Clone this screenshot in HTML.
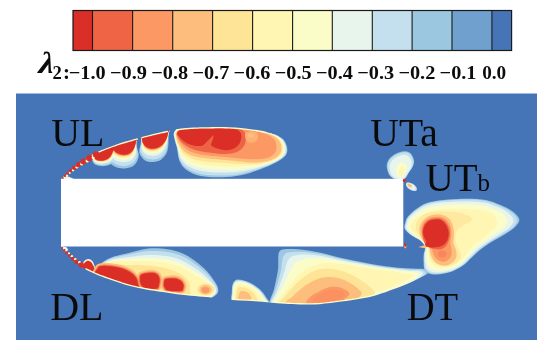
<!DOCTYPE html>
<html><head><meta charset="utf-8"><title>lambda2 contours</title>
<style>
html,body{margin:0;padding:0;background:#fff;}
body{width:550px;height:353px;overflow:hidden;position:relative;font-family:"Liberation Serif",serif;}
svg{position:absolute;left:0;top:0;display:block;}
.lab text{font-family:"Liberation Serif",serif;font-weight:bold;font-size:19.2px;fill:#0c0c0c;}
.reg text{font-family:"Liberation Serif",serif;font-size:39px;fill:#0a0a0a;}
</style></head><body>
<svg width="550" height="353" viewBox="0 0 550 353">
<defs>
<filter id="bl" x="-5%" y="-5%" width="110%" height="110%"><feGaussianBlur stdDeviation="0.7"/></filter>
<clipPath id="panel"><rect x="16" y="93.5" width="521" height="246.5"/></clipPath>
<clipPath id="cu"><path d="M55 186C56.1 184.7 59.1 181.1 61.8 178.2C64.5 175.3 67.6 171.8 71 168.8C74.4 165.9 77.8 163.3 82.1 160.5C86.4 157.7 91.3 154.8 96.8 152.2C102.3 149.6 109.1 147.1 115.2 144.9C121.3 142.8 128.5 140.8 133.7 139.3C138.9 137.8 142.2 136.8 146.6 135.7C151 134.6 155.1 133.6 160 132.5C164.9 131.4 171 130.1 176 129.3C181 128.5 185.1 128.2 190 127.8C194.9 127.4 199 127.3 205.5 127.2C212 127.1 221.1 126.8 229 127.2C236.9 127.6 245.6 128.4 252.7 129.4C259.8 130.4 265.4 131.7 271.6 133C277.8 134.3 281.9 135.8 290 137C298.1 138.2 315 139.5 320 140L320 215L55 215Z"/></clipPath>
<clipPath id="cl"><path d="M55 240.5C56 241.7 59.2 245.5 61.2 247.8C63.2 250.2 65.1 252.3 67.2 254.6C69.3 256.9 71.5 259.2 74 261.4C76.5 263.5 79.7 265.7 82.5 267.5C85.3 269.3 88.2 270.6 91 272C93.8 273.4 95.9 274.3 99.4 275.7C102.9 277.1 107.1 278.5 112 280.2C116.9 281.9 123.3 284.2 129 285.7C134.7 287.2 140.3 288.3 146 289.4C151.7 290.4 157 291.1 163 292C169 292.9 176 294.1 182 294.8C188 295.6 193.9 296 199 296.5C204.1 297 208.3 297.2 212.6 297.7C216.9 298.2 220.4 298.8 225 299.3C229.6 299.8 235 300.2 240 300.5C245 300.8 250.1 300.9 255 301.2C259.9 301.5 264.4 302.1 269.4 302.5C274.4 302.9 279.9 303.4 285 303.7C290.1 304 294.2 304.3 300 304.4C305.8 304.5 312.6 304.7 319.5 304.2C326.4 303.7 334.6 302.5 341.4 301.6C348.1 300.7 354.1 299.9 360 298.8C365.9 297.7 371.3 296.5 377 294.9C382.7 293.3 388.3 291.1 394 289C399.7 286.9 405.9 284.4 411 282.2C416.1 279.9 419.7 278 424.5 275.5C429.3 273 437.4 268.4 440 267L440 215L55 215Z"/></clipPath>
</defs>
<rect x="0" y="0" width="550" height="353" fill="#fff"/>
<g>
<rect x="73" y="10.5" width="19.5" height="40" fill="#da2e28"/>
<rect x="92.5" y="10.5" width="40.1" height="40" fill="#ee6444"/>
<rect x="132.6" y="10.5" width="40.1" height="40" fill="#fc9864"/>
<rect x="172.7" y="10.5" width="39.9" height="40" fill="#fdbe7d"/>
<rect x="212.6" y="10.5" width="40" height="40" fill="#fee496"/>
<rect x="252.6" y="10.5" width="40" height="40" fill="#fef6b2"/>
<rect x="292.6" y="10.5" width="39.7" height="40" fill="#fbfdc9"/>
<rect x="332.3" y="10.5" width="40" height="40" fill="#e8f5ec"/>
<rect x="372.3" y="10.5" width="39.8" height="40" fill="#c4e0ee"/>
<rect x="412.1" y="10.5" width="39.9" height="40" fill="#9bc7e0"/>
<rect x="452" y="10.5" width="39.9" height="40" fill="#70a0cd"/>
<rect x="491.9" y="10.5" width="19.7" height="40" fill="#4575b6"/>
<line x1="92.5" y1="10.5" x2="92.5" y2="50.5" stroke="#1a1a1a" stroke-width="1.1"/>
<line x1="132.6" y1="10.5" x2="132.6" y2="50.5" stroke="#1a1a1a" stroke-width="1.1"/>
<line x1="172.7" y1="10.5" x2="172.7" y2="50.5" stroke="#1a1a1a" stroke-width="1.1"/>
<line x1="212.6" y1="10.5" x2="212.6" y2="50.5" stroke="#1a1a1a" stroke-width="1.1"/>
<line x1="252.6" y1="10.5" x2="252.6" y2="50.5" stroke="#1a1a1a" stroke-width="1.1"/>
<line x1="292.6" y1="10.5" x2="292.6" y2="50.5" stroke="#1a1a1a" stroke-width="1.1"/>
<line x1="332.3" y1="10.5" x2="332.3" y2="50.5" stroke="#1a1a1a" stroke-width="1.1"/>
<line x1="372.3" y1="10.5" x2="372.3" y2="50.5" stroke="#1a1a1a" stroke-width="1.1"/>
<line x1="412.1" y1="10.5" x2="412.1" y2="50.5" stroke="#1a1a1a" stroke-width="1.1"/>
<line x1="452" y1="10.5" x2="452" y2="50.5" stroke="#1a1a1a" stroke-width="1.1"/>
<line x1="491.9" y1="10.5" x2="491.9" y2="50.5" stroke="#1a1a1a" stroke-width="1.1"/>
<rect x="73" y="10.5" width="438.6" height="40" fill="none" stroke="#1a1a1a" stroke-width="1.2"/>
</g>
<g class="lab">
<text transform="translate(38.3 73.3) skewX(-7) scale(1.1 1)" x="0" y="0" style="font-style:italic;font-size:30.5px">λ</text>
<text x="52.6" y="78.7" style="font-size:18.6px">2</text>
<text x="62.9" y="78.6" style="font-size:21px">:</text>
<text x="68.8" y="78.6" textLength="36.9" lengthAdjust="spacingAndGlyphs">−1.0</text>
<text x="110" y="78.6" textLength="36.9" lengthAdjust="spacingAndGlyphs">−0.9</text>
<text x="151.2" y="78.6" textLength="36.9" lengthAdjust="spacingAndGlyphs">−0.8</text>
<text x="192.4" y="78.6" textLength="36.9" lengthAdjust="spacingAndGlyphs">−0.7</text>
<text x="233.6" y="78.6" textLength="36.9" lengthAdjust="spacingAndGlyphs">−0.6</text>
<text x="274.8" y="78.6" textLength="36.9" lengthAdjust="spacingAndGlyphs">−0.5</text>
<text x="316" y="78.6" textLength="36.9" lengthAdjust="spacingAndGlyphs">−0.4</text>
<text x="357.2" y="78.6" textLength="36.9" lengthAdjust="spacingAndGlyphs">−0.3</text>
<text x="398.4" y="78.6" textLength="36.9" lengthAdjust="spacingAndGlyphs">−0.2</text>
<text x="439.6" y="78.6" textLength="36.9" lengthAdjust="spacingAndGlyphs">−0.1</text>
<text x="482.2" y="78.6" textLength="24" lengthAdjust="spacingAndGlyphs">0.0</text>
</g>
<rect x="16" y="93.5" width="521" height="246.5" fill="#4575b6"/>
<g clip-path="url(#panel)">
<g clip-path="url(#cu)"><g filter="url(#bl)">
<path d="M61 179.5L64 175.3L69 176.8L75 179.5Z" fill="#e8f5ec"/>
<path d="M92 147C90.6 149.9 91.2 154.4 91.5 157.2C91.9 160 92.7 162.3 94.2 163.8C95.6 165.3 98.3 165.7 100.4 166.1C102.4 166.4 104.6 166.1 106.6 165.7C108.6 165.2 110.8 164.5 112.4 163.3C113.9 162.1 115.2 160.2 116 158.4C116.7 156.7 117 155 116.8 152.9C116.5 150.8 117.1 148.2 114.3 146C111.5 143.8 103.7 139.8 100 140C96.3 140.2 93.4 144.1 92 147Z" fill="#9bc7e0"/>
<path d="M108.8 145.5C106.6 149 106.4 152.9 106.8 156C107.1 159.1 109.1 161.9 111 163.9C112.9 165.8 115.6 167 118.1 167.8C120.7 168.5 123.4 168.8 126.2 168.3C129 167.8 132.6 166.8 134.7 164.7C136.8 162.7 138.3 159 138.7 156.2C139.1 153.5 137.6 150.4 137.2 148.1C136.8 145.9 136.6 144.5 136.4 142.6C136.3 140.8 139 138.3 136.3 137C133.6 135.7 124.6 133.6 120 135C115.4 136.4 111 142 108.8 145.5Z" fill="#9bc7e0"/>
<path d="M141.4 139.1C141.3 141.4 141.1 141.7 140.7 144.1C140.4 146.4 138.7 150.4 139.4 153.1C140.1 155.8 142.7 158.9 145 160.4C147.3 161.9 150.7 162 153.3 161.9C156 161.8 158.8 161.2 161 159.7C163.2 158.3 165.4 155.7 166.6 153.1C167.8 150.6 168.1 147.2 168.4 144.7C168.7 142.2 168.4 140 168.5 138.1C168.5 136.2 168.7 135.2 168.8 133.2C168.9 131.1 173.8 126.5 169.2 126C164.6 125.5 145.6 127.8 141 130C136.4 132.2 141.4 136.8 141.4 139.1Z" fill="#9bc7e0"/>
<path d="M92 147C90.6 149.8 91.5 154.4 91.9 157.1C92.3 159.7 93.2 161.7 94.6 163C96 164.4 98.4 164.8 100.4 165C102.3 165.3 104.4 165 106.3 164.6C108.2 164.1 110.2 163.4 111.6 162.3C113.1 161.2 114.3 159.5 115 157.8C115.7 156.2 116.1 154.6 116 152.6C115.9 150.7 117 148.1 114.3 146C111.6 143.9 103.7 139.8 100 140C96.3 140.2 93.4 144.2 92 147Z" fill="#c4e0ee"/>
<path d="M109.5 145.8C107.5 149.1 107.8 152.3 108.2 155C108.6 157.6 110.4 160.1 112.1 161.8C113.9 163.5 116.4 164.5 118.7 165.2C121 165.8 123.5 166.1 126 165.7C128.5 165.2 131.7 164.3 133.6 162.6C135.5 160.9 137 157.6 137.5 155.2C138 152.7 136.9 150 136.7 147.9C136.5 145.8 136.4 144.4 136.3 142.6C136.2 140.8 139 138.3 136.3 137C133.6 135.7 124.5 133.5 120 135C115.5 136.5 111.5 142.5 109.5 145.8Z" fill="#c4e0ee"/>
<path d="M141.5 139.1C141.5 141.4 141.3 141.8 141.2 143.9C141 146 139.7 149.4 140.5 151.7C141.3 154.1 143.6 156.8 145.7 158C147.9 159.3 150.9 159.5 153.3 159.4C155.7 159.3 158.2 158.7 160.3 157.5C162.3 156.2 164.3 154 165.5 151.7C166.8 149.5 167.2 146.5 167.6 144.2C168.1 141.9 168 139.8 168.2 138C168.3 136.1 168.5 135.1 168.7 133.1C168.8 131.1 173.8 126.5 169.2 126C164.6 125.5 145.6 127.8 141 130C136.4 132.2 141.5 136.8 141.5 139.1Z" fill="#c4e0ee"/>
<path d="M92 147C90.7 149.8 91.9 154.4 92.4 156.9C93 159.4 93.9 160.9 95.2 162C96.6 163.1 98.7 163.4 100.4 163.6C102.2 163.8 104.2 163.5 105.9 163.1C107.6 162.7 109.3 162 110.6 161C111.9 160 113 158.5 113.7 157C114.4 155.6 114.9 154.1 115 152.3C115.1 150.4 116.8 148 114.3 146C111.8 144 103.7 139.8 100 140C96.3 140.2 93.3 144.2 92 147Z" fill="#e8f5ec"/>
<path d="M110.5 146.2C108.9 149.3 109.6 151.4 110.1 153.5C110.7 155.6 112.2 157.5 113.7 158.9C115.3 160.2 117.4 161.1 119.4 161.6C121.4 162.2 123.5 162.4 125.7 162.1C127.8 161.7 130.4 161 132.1 159.7C133.8 158.3 135.2 155.8 135.8 153.8C136.5 151.8 135.9 149.5 136 147.6C136 145.8 136.1 144.3 136.1 142.6C136.2 140.8 139 138.3 136.3 137C133.6 135.7 124.3 133.5 120 135C115.7 136.5 112.2 143.1 110.5 146.2Z" fill="#e8f5ec"/>
<path d="M141.7 139.1C141.8 141.3 141.7 141.8 141.8 143.6C141.8 145.4 141.2 148 142.1 149.9C142.9 151.8 144.9 153.8 146.8 154.8C148.7 155.8 151.1 155.9 153.2 155.9C155.3 155.8 157.4 155.3 159.2 154.3C161 153.3 162.8 151.6 164.1 149.8C165.3 148 166 145.5 166.7 143.5C167.3 141.5 167.5 139.6 167.8 137.8C168.1 136.1 168.2 135.1 168.5 133.1C168.7 131.1 173.8 126.5 169.2 126C164.6 125.5 145.6 127.8 141 130C136.4 132.2 141.5 136.8 141.7 139.1Z" fill="#e8f5ec"/>
<path d="M92 147C90.8 149.8 92.1 154.4 92.7 156.8C93.3 159.2 94.3 160.3 95.6 161.3C96.9 162.3 98.8 162.5 100.5 162.7C102.1 162.8 104 162.6 105.6 162.2C107.2 161.7 108.8 161.1 110 160.2C111.2 159.2 112.2 157.9 112.9 156.5C113.6 155.1 114.1 153.8 114.3 152C114.5 150.3 116.7 148 114.3 146C111.9 144 103.7 139.8 100 140C96.3 140.2 93.2 144.2 92 147Z" fill="#fbfdc9"/>
<path d="M111.2 146.4C109.8 149.4 110.8 150.8 111.4 152.6C112 154.4 113.3 155.9 114.7 157C116.1 158.1 118.1 158.9 119.9 159.4C121.7 159.8 123.6 160 125.5 159.8C127.3 159.5 129.6 158.9 131.2 157.8C132.7 156.6 134 154.6 134.7 152.9C135.5 151.1 135.3 149.2 135.5 147.4C135.7 145.7 135.9 144.3 136 142.5C136.2 140.8 139 138.3 136.3 137C133.6 135.7 124.2 133.4 120 135C115.8 136.6 112.6 143.5 111.2 146.4Z" fill="#fbfdc9"/>
<path d="M141.8 139C142 141.3 141.9 141.8 142.1 143.4C142.3 145 142.2 147.2 143 148.7C143.9 150.3 145.8 151.9 147.5 152.7C149.1 153.5 151.3 153.7 153.1 153.6C155 153.6 156.9 153.2 158.5 152.3C160.2 151.5 161.9 150.2 163.1 148.6C164.4 147 165.3 144.8 166 143C166.8 141.2 167.1 139.4 167.5 137.7C167.9 136.1 168 135 168.3 133.1C168.6 131.1 173.8 126.5 169.2 126C164.6 125.5 145.6 127.8 141 130C136.4 132.2 141.6 136.8 141.8 139Z" fill="#fbfdc9"/>
<path d="M92 147C90.8 149.8 92.3 154.4 93 156.7C93.6 159 94.6 160 95.9 160.8C97.1 161.7 98.9 161.9 100.5 162C102.1 162.1 103.9 161.9 105.4 161.5C106.9 161.1 108.4 160.5 109.5 159.6C110.7 158.7 111.6 157.4 112.3 156.1C113 154.8 113.5 153.6 113.8 151.9C114.2 150.2 116.6 148 114.3 146C112 144 103.7 139.8 100 140C96.3 140.2 93.2 144.2 92 147Z" fill="#fef6b2"/>
<path d="M111.7 146.6C110.4 149.4 111.6 150.4 112.3 151.9C112.9 153.5 114.1 154.7 115.4 155.7C116.8 156.7 118.6 157.3 120.2 157.8C121.9 158.2 123.6 158.3 125.3 158.1C127 157.9 129 157.4 130.5 156.4C131.9 155.5 133.2 153.7 134 152.2C134.8 150.7 134.9 148.9 135.2 147.3C135.5 145.7 135.8 144.2 136 142.5C136.1 140.8 139 138.3 136.3 137C133.6 135.7 124.1 133.4 120 135C115.9 136.6 113 143.8 111.7 146.6Z" fill="#fef6b2"/>
<path d="M141.8 139C142.1 141.2 142.1 141.8 142.4 143.3C142.7 144.8 142.8 146.5 143.8 147.9C144.7 149.2 146.4 150.6 147.9 151.2C149.5 151.9 151.4 152.1 153.1 152C154.8 152 156.5 151.6 158.1 150.9C159.6 150.2 161.2 149.1 162.5 147.7C163.7 146.4 164.8 144.4 165.6 142.7C166.4 141 166.9 139.3 167.3 137.7C167.7 136 167.9 135 168.2 133C168.5 131.1 173.7 126.5 169.2 126C164.7 125.5 145.6 127.8 141 130C136.4 132.2 141.6 136.8 141.8 139Z" fill="#fef6b2"/>
<path d="M92 147C90.9 149.8 92.4 154.4 93.1 156.6C93.8 158.9 94.8 159.7 96.1 160.6C97.3 161.4 98.9 161.6 100.5 161.6C102 161.7 103.8 161.5 105.3 161.1C106.8 160.7 108.1 160.1 109.2 159.2C110.3 158.4 111.2 157.1 111.9 155.9C112.7 154.7 113.2 153.4 113.6 151.8C113.9 150.1 116.6 148 114.3 146C112 144 103.7 139.8 100 140C96.3 140.2 93.1 144.2 92 147Z" fill="#fee496"/>
<path d="M112 146.7C110.7 149.5 112.1 150.2 112.8 151.5C113.4 152.9 114.6 154 115.9 154.9C117.1 155.8 118.9 156.4 120.5 156.8C122 157.2 123.6 157.3 125.2 157.1C126.8 156.9 128.7 156.5 130.1 155.6C131.5 154.8 132.7 153.2 133.5 151.8C134.3 150.4 134.6 148.8 135 147.2C135.4 145.7 135.7 144.2 135.9 142.5C136.1 140.8 139 138.3 136.3 137C133.6 135.7 124.1 133.4 120 135C115.9 136.6 113.2 144 112 146.7Z" fill="#fee496"/>
<path d="M141.9 139C142.1 141.2 142.2 141.8 142.6 143.2C142.9 144.6 143.2 146.2 144.2 147.4C145.1 148.5 146.8 149.7 148.2 150.4C149.7 151 151.5 151.1 153.1 151.1C154.7 151 156.3 150.7 157.8 150.1C159.3 149.4 160.8 148.5 162.1 147.2C163.3 145.9 164.5 144.1 165.3 142.5C166.2 140.9 166.7 139.2 167.2 137.6C167.7 136 167.8 135 168.2 133C168.5 131.1 173.7 126.5 169.2 126C164.7 125.5 145.6 127.8 141 130C136.4 132.2 141.6 136.8 141.9 139Z" fill="#fee496"/>
<path d="M92 147C90.9 149.8 92.6 154.4 93.3 156.6C94 158.8 95 159.5 96.2 160.3C97.4 161.1 99 161.2 100.5 161.2C102 161.3 103.8 161.1 105.2 160.7C106.6 160.3 107.9 159.7 109 158.9C110 158.1 110.9 156.9 111.6 155.7C112.3 154.5 112.8 153.3 113.3 151.7C113.7 150.1 116.5 147.9 114.3 146C112.1 144.1 103.7 139.8 100 140C96.3 140.2 93.1 144.2 92 147Z" fill="#fdbe7d"/>
<path d="M112.2 146.8C111.1 149.5 112.6 149.9 113.3 151.2C114 152.4 115.1 153.3 116.3 154.1C117.5 154.9 119.2 155.5 120.7 155.8C122.1 156.2 123.6 156.3 125.1 156.1C126.6 156 128.4 155.6 129.7 154.8C131 154.1 132.2 152.7 133.1 151.4C133.9 150.2 134.4 148.6 134.8 147.1C135.3 145.6 135.6 144.2 135.9 142.5C136.1 140.8 138.9 138.3 136.3 137C133.7 135.7 124 133.4 120 135C116 136.6 113.3 144.1 112.2 146.8Z" fill="#fdbe7d"/>
<path d="M141.9 139C142.2 141.2 142.3 141.8 142.7 143.1C143.2 144.4 143.6 145.8 144.6 146.8C145.6 147.9 147.1 148.9 148.5 149.5C149.9 150 151.5 150.1 153 150.1C154.5 150.1 156 149.8 157.5 149.2C158.9 148.7 160.4 147.8 161.7 146.7C162.9 145.5 164.1 143.8 165 142.3C166 140.8 166.6 139.1 167.1 137.6C167.6 136 167.7 134.9 168.1 133C168.5 131.1 173.7 126.5 169.2 126C164.7 125.5 145.5 127.8 141 130C136.5 132.2 141.6 136.8 141.9 139Z" fill="#fdbe7d"/>
<path d="M92 147C90.9 149.8 92.7 154.4 93.4 156.5C94.1 158.7 95.2 159.3 96.4 160C97.5 160.8 99 160.9 100.5 160.9C101.9 161 103.7 160.7 105.1 160.3C106.5 159.9 107.7 159.4 108.7 158.6C109.8 157.8 110.6 156.7 111.3 155.5C112 154.3 112.5 153.2 113 151.6C113.5 150 116.5 147.9 114.3 146C112.1 144.1 103.7 139.8 100 140C96.3 140.2 93.1 144.2 92 147Z" fill="#ee6444"/>
<path d="M112.5 146.9C111.4 149.6 113.1 149.7 113.8 150.8C114.5 151.9 115.5 152.8 116.6 153.5C117.8 154.2 119.4 154.7 120.8 155C122.2 155.3 123.7 155.5 125.1 155.3C126.5 155.2 128.1 154.9 129.3 154.2C130.6 153.5 131.8 152.3 132.7 151.1C133.6 149.9 134.1 148.5 134.7 147.1C135.2 145.6 135.6 144.2 135.8 142.5C136.1 140.8 138.9 138.3 136.3 137C133.7 135.7 124 133.3 120 135C116 136.7 113.5 144.3 112.5 146.9Z" fill="#ee6444"/>
<path d="M142 139C142.3 141.2 142.4 141.8 142.9 143.1C143.4 144.3 144 145.5 144.9 146.4C145.9 147.4 147.4 148.3 148.8 148.7C150.1 149.2 151.6 149.3 153 149.3C154.4 149.3 155.9 149 157.2 148.5C158.6 148 160.1 147.3 161.3 146.2C162.6 145.2 163.9 143.6 164.8 142.2C165.8 140.7 166.5 139.1 167 137.5C167.5 136 167.7 134.9 168 133C168.4 131.1 173.7 126.5 169.2 126C164.7 125.5 145.5 127.8 141 130C136.5 132.2 141.7 136.8 142 139Z" fill="#ee6444"/>
<path d="M92 147C90.9 149.8 92.8 154.4 93.5 156.5C94.2 158.6 95.3 159.1 96.5 159.8C97.7 160.5 99.1 160.6 100.5 160.6C101.9 160.6 103.7 160.4 105 160C106.3 159.6 107.5 159.1 108.5 158.3C109.5 157.5 110.3 156.4 111 155.3C111.7 154.2 112.2 153.1 112.8 151.5C113.3 149.9 116.4 147.9 114.3 146C112.2 144.1 103.7 139.8 100 140C96.3 140.2 93.1 144.2 92 147Z" fill="#da2e28"/>
<path d="M112.7 147C111.7 149.6 113.5 149.5 114.2 150.5C114.9 151.5 115.9 152.2 117 152.8C118.1 153.4 119.7 153.9 121 154.2C122.3 154.5 123.7 154.6 125 154.5C126.3 154.4 127.8 154.1 129 153.5C130.2 152.9 131.4 151.9 132.3 150.8C133.2 149.7 133.9 148.4 134.5 147C135.1 145.6 135.5 144.2 135.8 142.5C136.1 140.8 138.9 138.2 136.3 137C133.7 135.8 123.9 133.3 120 135C116.1 136.7 113.7 144.4 112.7 147Z" fill="#da2e28"/>
<path d="M142 139C142.3 141.2 142.4 141.8 143 143C143.6 144.2 144.3 145.2 145.3 146C146.3 146.8 147.7 147.6 149 148C150.3 148.4 151.7 148.5 153 148.5C154.3 148.5 155.7 148.2 157 147.8C158.3 147.4 159.7 146.8 161 145.8C162.3 144.8 163.6 143.4 164.6 142C165.6 140.6 166.3 139 166.9 137.5C167.5 136 167.6 134.9 168 133C168.4 131.1 173.7 126.5 169.2 126C164.7 125.5 145.5 127.8 141 130C136.5 132.2 141.7 136.8 142 139Z" fill="#da2e28"/>
<path d="M174 132.5C174.9 130.6 175.1 128.9 180.3 127.9C185.6 126.9 197.4 126.8 205.5 126.6C213.6 126.4 221.1 126.1 229 126.6C236.9 127.1 245.6 128.3 252.7 129.4C259.8 130.5 266.7 131.9 271.6 133.4C276.5 134.9 279.7 136.3 282.3 138.6C284.9 140.8 286.4 144.1 287 146.9C287.6 149.7 287.6 152.6 285.8 155.2C284 157.8 280.7 159.9 276.4 162.3C272.1 164.7 265.7 167.2 259.8 169.4C253.9 171.6 247.2 174 240.9 175.3C234.6 176.6 228.7 177.1 222 177.2C215.3 177.3 206.6 177.2 200.7 176C194.8 174.8 190 172.5 186.5 170C183 167.5 181.1 164.8 179.5 161.1C177.9 157.4 177.8 151.7 177 148.1C176.2 144.5 175.1 142.1 174.6 139.5C174.1 136.9 173.1 134.4 174 132.5Z" fill="#9bc7e0"/>
<path d="M174.2 132.5C175.2 130.7 175.3 129 180.5 128C185.7 127 197.4 126.9 205.5 126.7C213.6 126.5 221.1 126.2 229 126.7C236.9 127.2 245.6 128.3 252.7 129.5C259.7 130.6 266.5 131.9 271.4 133.5C276.3 135 279.4 136.4 281.9 138.7C284.4 140.9 285.9 144.1 286.4 146.9C287 149.6 286.9 152.6 285.2 155.1C283.4 157.6 280.2 159.8 275.9 162.1C271.6 164.3 265.3 166.7 259.4 168.7C253.6 170.7 247 172.8 240.8 173.9C234.6 175 229 175.4 222.4 175.5C215.8 175.5 207.3 175.4 201.4 174.2C195.6 173.1 190.8 171 187.2 168.6C183.7 166.3 181.6 163.6 179.9 160.1C178.3 156.6 178 151.1 177.2 147.6C176.3 144.2 175.3 141.8 174.8 139.2C174.3 136.7 173.3 134.4 174.2 132.5Z" fill="#c4e0ee"/>
<path d="M174.7 132.6C175.6 130.8 175.6 129.1 180.8 128.2C185.9 127.2 197.5 127.1 205.5 126.8C213.5 126.6 221.1 126.4 229 126.8C236.9 127.3 245.6 128.5 252.6 129.6C259.7 130.7 266.3 132.1 271 133.6C275.8 135.1 278.7 136.6 281.1 138.8C283.5 141 285 144.1 285.5 146.8C286 149.5 285.9 152.5 284.1 155C282.3 157.4 279.2 159.6 274.9 161.7C270.7 163.8 264.5 165.9 258.8 167.5C253.1 169.2 246.6 170.7 240.7 171.6C234.7 172.4 229.4 172.6 223.1 172.6C216.7 172.5 208.4 172.3 202.7 171.3C196.9 170.2 192.2 168.5 188.5 166.3C184.9 164.2 182.6 161.6 180.7 158.4C178.9 155.1 178.3 150.1 177.4 146.9C176.5 143.6 175.5 141.2 175.1 138.8C174.6 136.4 173.7 134.4 174.7 132.6Z" fill="#e8f5ec"/>
<path d="M175.1 132.7C176 131 176 129.3 181 128.3C186.1 127.4 197.5 127.2 205.5 127C213.5 126.8 221.1 126.5 229 127C236.9 127.4 245.7 128.6 252.6 129.7C259.6 130.9 266.1 132.2 270.7 133.7C275.3 135.3 278.1 136.7 280.5 138.9C282.8 141.1 284.1 144.1 284.5 146.7C285 149.4 284.8 152.4 283.1 154.8C281.3 157.2 278.2 159.4 274.1 161.3C269.9 163.2 263.8 165.1 258.2 166.4C252.6 167.8 246.3 168.8 240.5 169.4C234.8 169.9 229.8 170 223.7 169.8C217.6 169.7 209.5 169.4 203.8 168.5C198.2 167.5 193.5 166.1 189.7 164.1C186 162.2 183.4 159.8 181.4 156.8C179.4 153.8 178.7 149.2 177.6 146.1C176.6 143.1 175.8 140.7 175.3 138.4C174.9 136.2 174.1 134.4 175.1 132.7Z" fill="#fbfdc9"/>
<path d="M175.6 132.8C176.5 131.2 176.4 129.5 181.4 128.5C186.4 127.6 197.6 127.4 205.5 127.2C213.4 126.9 221.2 126.7 229 127.2C236.8 127.6 245.7 128.8 252.6 129.9C259.5 131 265.8 132.4 270.3 133.9C274.8 135.4 277.4 136.9 279.6 139C281.8 141.2 283 144 283.4 146.6C283.8 149.2 283.6 152.3 281.8 154.6C280.1 157 277.1 159.1 273 160.9C268.9 162.6 262.9 164.1 257.4 165.1C252 166 245.8 166.4 240.3 166.6C234.9 166.8 230.4 166.6 224.5 166.4C218.7 166.1 210.8 165.8 205.3 165C199.7 164.1 195.1 163.1 191.2 161.4C187.4 159.7 184.5 157.4 182.3 154.7C180.1 152 179.1 148 177.9 145.2C176.8 142.4 176.1 140 175.7 137.9C175.3 135.9 174.6 134.3 175.6 132.8Z" fill="#fef6b2"/>
<path d="M176.1 132.8C177 131.4 176.8 129.6 181.7 128.7C186.6 127.8 197.6 127.6 205.5 127.3C213.4 127.1 221.2 126.9 229 127.3C236.8 127.8 245.7 128.9 252.5 130.1C259.3 131.2 265.5 132.5 269.9 134.1C274.3 135.6 276.7 137.1 278.8 139.2C280.8 141.3 282 144 282.3 146.6C282.6 149.1 282.4 152.2 280.6 154.5C278.9 156.8 276 158.9 272 160.4C268 162 262 163.1 256.7 163.7C251.4 164.3 245.4 164.1 240.2 164C234.9 163.9 230.9 163.5 225.3 163.1C219.7 162.7 212.1 162.4 206.7 161.7C201.2 160.9 196.6 160.2 192.7 158.8C188.7 157.3 185.6 155.2 183.2 152.8C180.8 150.4 179.4 146.9 178.2 144.3C177 141.8 176.4 139.4 176 137.4C175.6 135.5 175.1 134.3 176.1 132.8Z" fill="#fee496"/>
<path d="M176.5 132.9C177.4 131.6 177.2 129.8 182 128.9C186.8 128 197.7 127.7 205.5 127.5C213.3 127.3 221.2 127 229 127.5C236.8 128 245.8 129.1 252.5 130.2C259.2 131.3 265.2 132.7 269.5 134.2C273.8 135.7 276 137.2 278 139.3C280 141.4 281.1 144 281.3 146.5C281.6 149 281.2 152.1 279.5 154.3C277.8 156.6 274.9 158.6 271 160C267.1 161.4 261.2 162.2 256 162.5C250.8 162.8 245 161.9 240 161.5C235 161.1 231.3 160.5 226 160C220.7 159.5 213.3 159.1 208 158.5C202.7 157.9 198 157.6 194 156.3C190 155.1 186.6 153.1 184 151C181.4 148.9 179.8 145.8 178.5 143.5C177.2 141.2 176.6 138.8 176.3 137C176 135.2 175.6 134.2 176.5 132.9Z" fill="#fdbe7d"/>
<path d="M176.8 132.9C177.7 131.8 177.2 130 182 129.2C186.8 128.3 197.7 128 205.5 127.8C213.3 127.6 221.2 127.3 229 127.8C236.8 128.2 245.7 129.4 252 130.5C258.3 131.6 263.3 133 267 134.5C270.7 136 272.6 137.5 274.2 139.5C275.8 141.5 276.4 144.2 276.5 146.5C276.6 148.8 276.1 151.6 274.5 153.5C272.9 155.4 270.4 157 267 158C263.6 159 258.5 159.2 254 159.3C249.5 159.4 244.7 158.9 240 158.5C235.3 158.1 231.3 157.5 226 157C220.7 156.5 213.3 156.2 208 155.5C202.7 154.8 197.8 154.2 194 153C190.2 151.8 187.4 150 185 148C182.6 146 180.7 143 179.3 141C177.9 139 177.2 137.3 176.8 136C176.4 134.7 175.9 134 176.8 132.9Z" fill="#fc9864"/>
<path d="M177 133C177.7 131.7 177.3 130.1 182 129.3C186.7 128.5 196 128.2 205 128C214 127.8 229.6 127.5 236 128C242.4 128.5 241.8 129.5 243.5 131C245.2 132.5 245.9 134.5 246 137C246.1 139.5 245.5 143.5 244 146C242.5 148.5 240 150.7 237 152C234 153.3 230.2 153.8 226 154C221.8 154.2 216.5 153.5 212 153C207.5 152.5 202.8 151.9 199 151C195.2 150.1 191.9 149 189 147.5C186.1 146 183.3 143.8 181.5 142C179.7 140.2 178.8 138.5 178 137C177.2 135.5 176.3 134.3 177 133Z" fill="#ee6444"/>
<path d="M177.3 132.5C177.9 131.6 180.4 129.9 183 129.3C185.6 128.7 191.9 128.4 196 128.3C200.1 128.2 207.5 128.3 212 128.3C216.5 128.3 224.6 128.1 228 128.3C231.4 128.5 234.4 128.9 236.2 129.5C238 130.1 239.8 131.4 240.5 132.5C241.2 133.6 241.4 135.9 241.3 137.5C241.2 139.1 240.4 142 239.5 143.5C238.6 145 236.8 147 235 148C233.2 149 229.3 150.2 227 150.3C224.7 150.4 221 149.5 219 149C217 148.5 214.1 147.4 213 146.8C211.9 146.2 211 145.5 211 144.5C211 143.5 212.5 140.8 212.8 139.5C213.1 138.2 213.9 135.3 213.4 135.3C212.9 135.3 210.5 138.1 209 139.5C207.5 140.9 204.8 144.4 203 145.3C201.2 146.2 198.1 146.2 196 146C193.9 145.8 190 144.7 188 143.8C186 142.9 183.3 140.9 182 139.8C180.7 138.7 179.2 136.8 178.5 135.8C177.8 134.8 176.7 133.4 177.3 132.5Z" fill="#da2e28"/>
<path d="M245 134.5C245.2 133.1 246.2 132.5 247.5 132C248.8 131.5 250.9 131.2 252.5 131.3C254.1 131.4 256.1 131.8 257 132.8C257.9 133.8 258.2 136.1 258 137.5C257.8 138.9 256.8 140.6 255.5 141.5C254.2 142.4 252 143 250.5 142.8C249 142.6 247.2 141.7 246.3 140.3C245.4 138.9 244.8 135.9 245 134.5Z" fill="#fdb175"/>
<ellipse cx="251" cy="135.5" rx="3.4" ry="2.3" fill="#fdbe7d"/>
<path d="M90.9 155.2L91.8 154.7L92.8 154.2L93.8 153.7L94.8 153.2L95.8 152.7L96.8 152.2L97.8 151.7L98.9 151.2L100 150.7L101.1 150.3L102.3 149.8L103.4 149.3L104.6 148.8L105.8 148.4L106.9 147.9L108.1 147.5L109.3 147L110.5 146.6L111.7 146.1L112.9 145.7L114 145.3L115.2 144.9L116.4 144.5L117.5 144.1L118.7 143.7L119.9 143.3L121.2 143L122.4 142.6L123.6 142.2L124.8 141.9L126 141.5L127.2 141.2L128.3 140.8L129.5 140.5L130.6 140.2L131.7 139.9L132.7 139.6L133.7 139.3L134.7 139L135.6 138.8L136.5 138.5L137.3 138.3" fill="none" stroke="#fbfdc9" stroke-width="2.6"/>
<path d="M141.2 137.1L142 136.9L142.7 136.7L143.5 136.5L144.2 136.3L145 136.1L145.8 135.9L146.6 135.7L147.4 135.5L148.2 135.3L149 135.1L149.9 134.9L150.7 134.7L151.5 134.5L152.3 134.3L153.1 134.1L153.9 133.9L154.8 133.7L155.6 133.5L156.5 133.3L157.3 133.1L158.2 132.9L159.1 132.7L160 132.5L160.9 132.3L161.9 132.1L162.9 131.9L163.9 131.7L164.9 131.4L165.9 131.2L166.9 131L168 130.8" fill="none" stroke="#fbfdc9" stroke-width="2.6"/>
<path d="M176 129.3L176.9 129.2L177.8 129L178.7 128.9L179.6 128.8L180.5 128.7L181.3 128.6L182.2 128.5L183 128.4L183.9 128.3L184.7 128.2L185.6 128.1L186.4 128.1L187.3 128L188.2 127.9L189.1 127.9L190 127.8L190.9 127.7L191.8 127.7L192.7 127.6L193.6 127.6L194.5 127.5L195.4 127.5L196.2 127.4L197.2 127.4L198.1 127.4L199 127.3L200 127.3L201 127.3L202.1 127.3L203.2 127.2L204.3 127.2L205.5 127.2L206.7 127.2L208.1 127.2L209.4 127.1L210.8 127.1L212.2 127.1L213.7 127.1L215.2 127L216.7 127L218.3 127L219.8 127L221.4 127L222.9 127L224.5 127.1L226 127.1L227.5 127.1L229 127.2L230.5 127.3L232 127.4L233.5 127.5L235 127.6L236.6 127.7L238.1 127.8L239.6 127.9L241.1 128.1L242.7 128.2L244.2 128.4L245.6 128.5L247.1 128.7L248.6 128.9L250 129L251.4 129.2L252.7 129.4L254 129.6L255.3 129.8L256.5 130L257.8 130.2L259 130.4L260.2 130.6L261.3 130.9L262.5 131.1L263.6 131.3L264.8 131.6L265.9 131.8" fill="none" stroke="#fbfdc9" stroke-width="2.6"/>
</g></g>
<g clip-path="url(#cl)"><g filter="url(#bl)">
<path d="M61 246L66.5 247.2L68.5 250L64.5 251.2Z" fill="#e8f5ec"/>
<path d="M82.5 267C82.7 265.3 82.6 264.1 83.2 262.9C83.7 261.7 84.7 260.4 85.8 259.8C86.8 259.2 88.3 258.9 89.5 259.2C90.6 259.4 91.9 260.4 92.7 261.4C93.5 262.5 94 264.2 94.4 265.6C94.9 267 95.1 267.8 95.4 269.9C95.7 272 98.2 277.5 96 278C93.8 278.5 84.2 274.8 82 273C79.8 271.2 82.3 268.7 82.5 267Z" fill="#e8f5ec"/>
<path d="M82.5 267C82.8 265.4 83 264.3 83.6 263.2C84.2 262.1 85.2 261 86.1 260.5C87.1 260 88.2 259.8 89.2 260C90.2 260.3 91.3 261 92.1 262C92.9 262.9 93.4 264.5 94 265.8C94.5 267.1 94.9 267.9 95.2 270C95.5 272 98.2 277.5 96 278C93.8 278.5 84.2 274.8 82 273C79.8 271.2 82.2 268.6 82.5 267Z" fill="#fef6b2"/>
<path d="M82.5 267C82.8 265.4 83.3 264.5 84 263.5C84.7 262.5 85.7 261.6 86.5 261.2C87.3 260.8 88.2 260.7 89 260.9C89.8 261.1 90.8 261.6 91.5 262.5C92.2 263.4 92.9 264.8 93.5 266C94.1 267.2 94.6 268 95 270C95.4 272 98.2 277.5 96 278C93.8 278.5 84.2 274.8 82 273C79.8 271.2 82.2 268.6 82.5 267Z" fill="#da2e28"/>
<path d="M96.4 269.5C97.6 266.7 100 264.2 102.9 262.1C105.8 260 109.6 258.1 113.9 256.6C118.2 255.1 122.9 254.2 128.7 252.9C134.4 251.6 142.1 249.2 148.4 248.6C154.8 248 161.3 248.5 166.8 249.2C172.3 249.9 177 251.1 181.6 253C186.2 254.9 190.2 257.4 194.5 260.5C198.8 263.6 203.5 267.5 207.2 271.5C210.8 275.5 214.6 281 216.4 284.3C218.2 287.6 218.5 289.6 218.2 291.5C217.9 293.4 216.5 294.7 214.5 296C212.5 297.3 210.9 298.8 206 299.5C201.1 300.2 191.7 300.3 185 300C178.3 299.7 172.2 298.4 166 297.5C159.8 296.6 154 295.6 148 294.5C142 293.4 136.3 292.5 130 291C123.7 289.5 115.7 287.5 110 285.5C104.3 283.5 98.3 281.7 96 279C93.7 276.3 95.2 272.3 96.4 269.5Z" fill="#9bc7e0"/>
<path d="M96.6 269.7C97.7 266.9 100 264.7 102.9 262.7C105.8 260.7 109.6 258.9 113.9 257.6C118.2 256.2 123 255.6 128.8 254.5C134.5 253.4 142.1 251.5 148.4 251.1C154.7 250.7 161.3 251.2 166.8 252C172.3 252.7 176.8 254 181.3 255.8C185.8 257.6 189.6 260 193.7 262.9C197.8 265.8 202.4 269.4 206.1 273C209.7 276.6 213.5 281.6 215.4 284.6C217.3 287.7 217.6 289.6 217.3 291.5C217.1 293.4 215.8 294.5 213.9 295.9C212 297.2 210.8 298.8 206 299.5C201.2 300.2 191.7 300.3 185 300C178.3 299.7 172.2 298.4 166 297.5C159.8 296.6 154 295.6 148 294.5C142 293.4 136.3 292.5 130 291C123.7 289.5 115.6 287.5 110 285.5C104.4 283.5 98.4 281.6 96.2 279C94 276.4 95.5 272.4 96.6 269.7Z" fill="#c4e0ee"/>
<path d="M96.8 269.9C97.9 267.3 100.1 265.4 103 263.6C105.8 261.7 109.6 260.2 114 259.1C118.3 257.9 123.1 257.6 128.8 256.9C134.6 256.3 142.1 255 148.4 254.9C154.7 254.8 161.4 255.3 166.8 256.1C172.2 257 176.5 258.3 180.8 260C185.1 261.7 188.6 264 192.5 266.5C196.4 269 200.8 272.1 204.3 275.2C207.9 278.4 212 282.4 213.9 285.1C215.9 287.9 216.2 289.8 216 291.5C215.8 293.2 214.7 294.3 213 295.6C211.3 297 210.7 298.8 206 299.5C201.3 300.2 191.7 300.3 185 300C178.3 299.7 172.2 298.4 166 297.5C159.8 296.6 154 295.6 148 294.5C142 293.4 136.3 292.5 130 291C123.7 289.5 115.6 287.5 110 285.5C104.4 283.5 98.7 281.6 96.5 279C94.3 276.4 95.8 272.5 96.8 269.9Z" fill="#e8f5ec"/>
<path d="M97.1 270.1C98.1 267.6 100.2 265.9 103 264.3C105.8 262.6 109.6 261.2 114 260.3C118.3 259.4 123.2 259.3 128.9 259C134.7 258.6 142.1 258 148.4 258.1C154.7 258.1 161.5 258.6 166.8 259.6C172.1 260.5 176.3 261.8 180.4 263.5C184.5 265.2 187.7 267.2 191.5 269.5C195.3 271.8 199.4 274.4 202.9 277.1C206.5 279.8 210.7 283.2 212.7 285.6C214.7 288 215 289.9 214.9 291.5C214.8 293.1 213.7 294.1 212.2 295.5C210.8 296.8 210.5 298.7 206 299.5C201.5 300.3 191.7 300.3 185 300C178.3 299.7 172.2 298.4 166 297.5C159.8 296.6 154 295.6 148 294.5C142 293.4 136.3 292.5 130 291C123.7 289.5 115.5 287.5 110 285.5C104.5 283.5 98.9 281.6 96.8 279C94.6 276.4 96 272.6 97.1 270.1Z" fill="#fbfdc9"/>
<path d="M97.3 270.3C98.3 268 100.2 266.5 103 265C105.8 263.5 109.7 262.2 114 261.5C118.3 260.8 123.3 261.1 129 261C134.7 260.9 142.1 260.9 148.4 261.2C154.7 261.5 161.5 262 166.8 263C172.1 264 176.1 265.4 180 267C183.9 268.6 186.9 270.5 190.5 272.5C194.1 274.5 198 276.8 201.5 279C205 281.2 209.4 283.9 211.5 286C213.6 288.1 213.8 289.9 213.8 291.5C213.8 293.1 212.8 294 211.5 295.3C210.2 296.6 210.4 298.7 206 299.5C201.6 300.3 191.7 300.3 185 300C178.3 299.7 172.2 298.4 166 297.5C159.8 296.6 154 295.6 148 294.5C142 293.4 136.3 292.5 130 291C123.7 289.5 115.5 287.5 110 285.5C104.5 283.5 99.1 281.5 97 279C94.9 276.5 96.3 272.6 97.3 270.3Z" fill="#fef6b2"/>
<path d="M97.8 270.8C98.8 268.8 100.3 268.1 103 267C105.7 265.9 109.7 264.8 114 264.5C118.3 264.2 123.3 264.8 129 265C134.7 265.2 142.1 264.9 148.4 265.5C154.7 266.1 161.9 267.3 166.8 268.5C171.7 269.7 174.9 271 178 272.5C181.1 274 183.6 275.7 185.5 277.5C187.4 279.3 188.8 281.6 189.5 283.5C190.2 285.4 190.2 286.6 190 289C189.8 291.4 192 296.6 188 298C184 299.4 172.7 298.1 166 297.5C159.3 296.9 154 295.6 148 294.5C142 293.4 136.3 292.5 130 291C123.7 289.5 115.5 287.5 110 285.5C104.5 283.5 99 281.4 97 279C95 276.6 96.8 272.8 97.8 270.8Z" fill="#fee496"/>
<ellipse cx="205.8" cy="289.6" rx="8.5" ry="6" fill="#fee496"/>
<path d="M95.3 266.8C96.5 263.6 100.1 263.6 102.6 263C105.1 262.5 107.6 263.1 110.3 263.3C113 263.6 115.9 263.9 118.7 264.6C121.5 265.2 124.6 266.1 127.2 267.2C129.7 268.3 132 269.6 133.9 271.2C135.8 272.7 137.4 274.5 138.6 276.5C139.7 278.4 140.8 279.2 140.7 282.6C140.5 286 145.3 297.1 137.7 297C130.2 296.9 102.4 287 95.4 282C88.3 277 94.1 269.9 95.3 266.8Z" fill="#fdbe7d"/>
<path d="M139 272.8C140.6 271.3 144 270.8 146.6 270.3C149.2 269.9 152.3 269.6 154.6 270.2C156.9 270.7 159 272 160.3 273.6C161.6 275.1 162.2 277.4 162.5 279.2C162.7 281.1 162.5 282.8 161.9 284.7C161.3 286.7 160.7 289.8 158.7 290.9C156.7 292.1 152.5 291.9 149.8 291.8C147.2 291.7 144.6 291.3 142.6 290.3C140.7 289.2 139 287.1 138.1 285.3C137.2 283.5 137 281.6 137.1 279.5C137.2 277.4 137.4 274.3 139 272.8Z" fill="#fdbe7d"/>
<path d="M163 277.4C164.4 276 167.5 275.9 169.8 275.6C172 275.3 174.4 275.2 176.6 275.8C178.8 276.3 181.4 277.3 183 278.7C184.6 280.2 185.8 282.5 186.3 284.3C186.8 286.1 186.5 287.8 185.9 289.4C185.2 291 184.4 292.9 182.4 293.7C180.4 294.5 176.6 294.2 173.8 294C171 293.8 167.6 293.6 165.6 292.7C163.6 291.7 162.6 289.8 161.8 288.3C161 286.9 160.8 285.8 161 284C161.2 282.2 161.5 278.8 163 277.4Z" fill="#fdbe7d"/>
<path d="M96.5 267.4C97.6 264.6 100.5 264.9 102.8 264.4C105 264 107.6 264.5 110.2 264.7C112.8 265 115.6 265.3 118.4 265.9C121.1 266.6 124.2 267.5 126.6 268.5C129.1 269.6 131.2 270.8 133 272.3C134.8 273.7 136.3 275.4 137.4 277.2C138.4 278.9 139.2 279.7 139.3 282.8C139.4 285.9 145.1 295.9 137.9 295.6C130.7 295.3 103 285.5 96.1 280.8C89.2 276.1 95.4 270.1 96.5 267.4Z" fill="#fc9864"/>
<path d="M139.9 273.8C141.3 272.5 144.4 272.1 146.8 271.7C149.2 271.3 152.2 271.1 154.3 271.5C156.4 272 158.1 273.2 159.2 274.5C160.4 275.8 160.9 277.8 161.1 279.4C161.3 281.1 161.1 282.7 160.6 284.4C160 286.1 159.8 288.7 158.1 289.7C156.3 290.7 152.4 290.5 149.9 290.4C147.5 290.3 145 290 143.3 289C141.5 288.1 140.2 286.3 139.4 284.7C138.6 283.1 138.4 281.4 138.5 279.6C138.6 277.8 138.5 275.1 139.9 273.8Z" fill="#fc9864"/>
<path d="M163.9 278.4C165.2 277.2 167.8 277.2 169.9 277C171.9 276.8 174.3 276.7 176.3 277.1C178.4 277.6 180.6 278.5 182 279.8C183.5 281 184.5 283.2 184.9 284.7C185.4 286.2 185 287.7 184.5 289C184 290.3 183.8 291.7 182 292.3C180.3 292.9 176.5 292.8 173.9 292.6C171.3 292.4 168 292.2 166.2 291.4C164.4 290.6 163.7 288.9 163.1 287.7C162.4 286.5 162.3 285.6 162.4 284.1C162.5 282.5 162.7 279.6 163.9 278.4Z" fill="#fc9864"/>
<path d="M97.3 267.7C98.3 265.2 100.8 265.6 102.9 265.2C105 264.8 107.5 265.3 110.1 265.5C112.6 265.8 115.5 266.1 118.2 266.7C120.9 267.3 123.9 268.2 126.3 269.3C128.7 270.3 130.8 271.5 132.5 272.9C134.2 274.3 135.7 275.9 136.7 277.6C137.7 279.3 138.3 280 138.5 282.9C138.7 285.8 144.9 295.3 137.9 294.8C130.9 294.3 103.3 284.7 96.6 280.2C89.8 275.7 96.2 270.2 97.3 267.7Z" fill="#ee6444"/>
<path d="M98 268C99 265.8 101 266.3 103 266C105 265.7 107.5 266.1 110 266.3C112.5 266.6 115.3 266.9 118 267.5C120.7 268.1 123.7 269 126 270C128.3 271 130.3 272.2 132 273.5C133.7 274.8 135.1 276.4 136 278C136.9 279.6 137.4 280.3 137.7 283C138 285.7 144.8 294.6 138 294C131.2 293.4 103.7 283.8 97 279.5C90.3 275.2 97 270.2 98 268Z" fill="#da2e28"/>
<path d="M140.5 274.4C141.7 273.2 144.6 272.9 146.9 272.5C149.2 272.2 152.2 271.9 154.2 272.3C156.1 272.7 157.6 273.8 158.6 275C159.6 276.2 160.1 278 160.3 279.5C160.5 281 160.2 282.6 159.8 284.2C159.3 285.8 159.3 288.1 157.7 289C156 289.9 152.3 289.7 150 289.6C147.6 289.5 145.3 289.2 143.6 288.3C142 287.4 140.8 285.8 140.1 284.4C139.4 282.9 139.2 281.2 139.3 279.6C139.4 277.9 139.2 275.6 140.5 274.4Z" fill="#ee6444"/>
<path d="M141 275C142.2 273.9 144.8 273.6 147 273.3C149.2 273 152.2 272.7 154 273.1C155.8 273.5 157.1 274.4 158 275.5C158.9 276.6 159.3 278.2 159.5 279.6C159.7 281 159.4 282.6 159 284C158.6 285.4 158.8 287.5 157.3 288.3C155.8 289.1 152.2 288.9 150 288.8C147.8 288.7 145.5 288.4 144 287.6C142.5 286.8 141.5 285.3 140.8 284C140.2 282.7 140.1 281.1 140.1 279.6C140.1 278.1 139.8 276.1 141 275Z" fill="#da2e28"/>
<path d="M164.5 279C165.6 278 168 278 169.9 277.8C171.9 277.6 174.2 277.5 176.2 277.9C178.1 278.4 180.2 279.2 181.5 280.4C182.9 281.6 183.8 283.5 184.2 284.9C184.5 286.3 184.2 287.6 183.8 288.7C183.4 289.9 183.4 291.1 181.8 291.6C180.2 292.1 176.5 292 174 291.8C171.4 291.6 168.2 291.4 166.5 290.6C164.8 289.9 164.3 288.4 163.8 287.4C163.2 286.3 163.1 285.5 163.2 284.1C163.3 282.8 163.3 280.1 164.5 279Z" fill="#ee6444"/>
<path d="M165 279.6C166 278.7 168.2 278.8 170 278.6C171.8 278.5 174.2 278.3 176 278.7C177.8 279.1 179.8 279.9 181 281C182.2 282.1 183.1 283.9 183.4 285.1C183.7 286.4 183.3 287.6 183 288.5C182.7 289.4 183.1 290.4 181.6 290.8C180.1 291.2 176.5 291.1 174 291C171.5 290.9 168.4 290.6 166.8 289.9C165.2 289.2 165 287.9 164.5 287C164 286.1 163.9 285.4 164 284.2C164.1 283 164 280.5 165 279.6Z" fill="#da2e28"/>
<ellipse cx="205.6" cy="289.7" rx="6.2" ry="4.7" fill="#fdbe7d"/>
<ellipse cx="205.5" cy="289.9" rx="3.9" ry="3" fill="#fc9864"/>
<path d="M231.4 301.5C230.9 299.3 231.6 294.9 231.8 292C232 289.1 231.9 285.9 232.8 283.8C233.8 281.7 234.8 279.9 237.5 279.6C240.2 279.4 245.2 280.7 249 282.3C252.8 283.9 257 286.8 260 289.5C263 292.2 265.4 295.9 267 298.5C268.6 301.1 272.3 303.8 269.5 305C266.7 306.2 255.8 306 250 306C244.2 306 238.1 305.8 235 305C231.9 304.2 231.9 303.7 231.4 301.5Z" fill="#9bc7e0"/>
<path d="M231.8 301.4C231.3 299.3 232 295.1 232.2 292.2C232.4 289.4 232.3 286.3 233.2 284.3C234.1 282.3 235.1 280.5 237.7 280.3C240.3 280 245.2 281.3 248.8 282.9C252.4 284.4 256.5 287.1 259.3 289.7C262.2 292.3 264.5 295.9 266 298.4C267.5 300.9 271.1 303.5 268.4 304.7C265.7 305.9 255.3 305.6 249.8 305.6C244.2 305.6 238.3 305.4 235.3 304.7C232.3 304 232.3 303.4 231.8 301.4Z" fill="#c4e0ee"/>
<path d="M232.3 301.2C231.8 299.2 232.4 295.2 232.7 292.5C232.9 289.8 232.8 286.8 233.7 284.9C234.6 283 235.5 281.3 238 281.1C240.5 280.8 245.1 282 248.5 283.5C252 285 255.8 287.6 258.6 290C261.3 292.5 263.5 295.9 264.9 298.3C266.3 300.7 269.7 303.1 267.1 304.3C264.5 305.4 254.7 305.2 249.5 305.2C244.2 305.2 238.5 305 235.7 304.4C232.8 303.7 232.8 303.1 232.3 301.2Z" fill="#e8f5ec"/>
<path d="M232.9 300.9C232.4 299.1 233 295.4 233.3 292.9C233.5 290.3 233.4 287.5 234.3 285.7C235.1 283.9 236.1 282.3 238.4 282.1C240.7 281.9 245 282.9 248.2 284.3C251.4 285.7 255 288.1 257.6 290.4C260.1 292.7 262.2 295.9 263.5 298.2C264.8 300.4 267.8 302.7 265.4 303.8C263 304.9 254 304.7 249.1 304.7C244.2 304.7 238.8 304.5 236.1 303.9C233.4 303.3 233.3 302.8 232.9 300.9Z" fill="#fbfdc9"/>
<path d="M234 300.5C233.6 298.9 234.2 295.8 234.5 293.6C234.7 291.4 234.7 288.9 235.5 287.3C236.2 285.7 237.1 284.4 239.1 284.2C241.1 283.9 244.8 284.8 247.6 286C250.3 287.1 253.4 289.1 255.6 291.1C257.8 293.1 259.5 295.9 260.6 297.9C261.7 299.8 264.1 301.9 262.1 302.8C260.1 303.8 252.6 303.6 248.4 303.6C244.2 303.6 239.4 303.5 237 303C234.6 302.5 234.5 302.1 234 300.5Z" fill="#fef6b2"/>
<path d="M235.7 299.9C235.3 298.7 235.9 296.3 236.2 294.6C236.4 292.9 236.5 290.7 237.2 289.5C237.8 288.2 238.5 287.2 240.1 287C241.7 286.8 244.6 287.4 246.7 288.3C248.8 289.1 251.2 290.6 252.8 292.1C254.5 293.6 255.8 296 256.6 297.5C257.4 299.1 259 300.7 257.5 301.4C255.9 302.2 250.6 302 247.4 302.1C244.2 302.2 240.2 302.1 238.2 301.8C236.3 301.4 236 301.1 235.7 299.9Z" fill="#fee496"/>
<path d="M238 299C237.8 298.3 238.2 297.1 238.5 296C238.8 294.9 239 293.3 239.5 292.5C240 291.7 240.5 291.2 241.5 291C242.5 290.8 244.2 291.1 245.5 291.5C246.8 291.9 248.1 292.6 249 293.5C249.9 294.4 250.7 296 251 297C251.3 298 251.8 299 251 299.5C250.2 300 247.8 299.9 246 300C244.2 300.1 241.3 300.2 240 300C238.7 299.8 238.2 299.7 238 299Z" fill="#fdbe7d"/>
<path d="M269.4 304.5C268.3 301.9 272.5 294.6 273.7 290.2C274.9 285.8 275.8 281.6 276.5 278C277.2 274.4 277.8 271.9 278.1 268.4C278.4 264.9 278.1 259.8 278.3 257C278.5 254.2 278.4 253.1 279.3 251.8C280.2 250.5 280.4 249.7 283.5 249.3C286.6 248.9 291.7 248.7 297.7 249.2C303.7 249.7 312.2 250.9 319.5 252.4C326.8 253.9 334.6 256.4 341.4 258C348.1 259.6 354.1 260.6 360 261.8C365.9 263 371.3 264.1 377 265C382.7 265.9 388.3 266.7 394 267.3C399.7 267.9 406 268.3 411 268.6C416 268.9 421.2 268.4 424 269C426.8 269.6 427.9 270.7 428 272C428.1 273.3 427.3 275.1 424.5 277C421.7 278.9 416.1 281.3 411 283.5C405.9 285.7 400 287.9 394 290C388 292.1 382.3 294.2 375 296C367.7 297.8 359.2 299.3 350 301C340.8 302.7 328.8 305 320 306C311.2 307 303.7 307 297 307C290.3 307 284.6 306.4 280 306C275.4 305.6 270.4 307.1 269.4 304.5Z" fill="#9bc7e0"/>
<path d="M270.2 304.5C269.4 302.1 273.6 295.5 275 291.4C276.4 287.3 277.6 283.3 278.6 279.8C279.6 276.3 280.3 273.8 281 270.5C281.6 267.2 281.8 262.4 282.4 259.8C282.9 257.2 283.2 256.1 284.3 254.8C285.4 253.6 285.9 252.8 288.8 252.3C291.7 251.8 296.4 251.4 301.9 251.8C307.4 252.1 314.9 253.1 321.6 254.3C328.2 255.5 335.5 257.7 341.9 259.1C348.3 260.5 354.1 261.6 360 262.7C365.9 263.8 371.3 264.9 377 265.8C382.7 266.7 388.5 267.4 394 268C399.5 268.6 405.2 269.2 409.7 269.5C414.3 269.8 418.9 269.4 421.5 269.9C424.1 270.5 425.4 271.4 425.5 272.6C425.6 273.8 424.9 275.3 422.2 277.1C419.6 278.8 414.5 281.1 409.7 283.1C405 285.2 399.5 287.4 393.6 289.5C387.8 291.5 382.1 293.6 374.8 295.5C367.5 297.4 359.1 299.2 350 300.9C340.9 302.7 328.8 305 320 306C311.2 307 303.6 307 297 307C290.4 307 284.6 306.4 280.2 306C275.7 305.6 271.1 306.9 270.2 304.5Z" fill="#c4e0ee"/>
<path d="M271.1 304.5C270.5 302.3 274.9 296.6 276.5 292.8C278.1 289 279.6 285.1 280.9 281.8C282.1 278.5 283.1 276 284.1 272.8C285.2 269.7 286 265.3 286.9 262.9C287.9 260.4 288.5 259.4 289.8 258.1C291.1 256.9 291.9 256.2 294.7 255.6C297.5 255.1 301.7 254.5 306.6 254.6C311.4 254.8 317.9 255.5 323.9 256.4C329.8 257.4 336.4 259.2 342.4 260.4C348.4 261.6 354.2 262.7 360 263.8C365.8 264.8 371.3 265.9 377 266.7C382.7 267.6 388.8 268.2 394 268.8C399.2 269.4 404.2 270.1 408.3 270.5C412.5 270.8 416.3 270.5 418.7 271C421.1 271.4 422.5 272.2 422.7 273.3C422.9 274.3 422.1 275.5 419.8 277.1C417.4 278.7 412.8 280.8 408.3 282.7C403.9 284.7 398.9 286.8 393.2 288.9C387.6 290.9 381.8 292.9 374.6 294.9C367.4 296.9 359.1 299 350 300.8C340.9 302.7 328.8 305 320 306C311.2 307 303.6 307 297 307C290.4 307 284.7 306.4 280.4 306C276.1 305.6 271.8 306.7 271.1 304.5Z" fill="#e8f5ec"/>
<path d="M272.3 304.5C271.9 302.6 276.3 297.8 278.2 294.4C280.1 291 282 287.3 283.6 284.2C285.3 281.1 286.5 278.5 288 275.6C289.4 272.7 291 268.8 292.4 266.6C293.8 264.4 294.9 263.3 296.5 262.2C298 261 299.2 260.3 301.8 259.7C304.4 259 308 258.2 312.1 258.1C316.3 258 321.5 258.3 326.6 259C331.8 259.6 337.5 260.9 343 261.9C348.6 262.9 354.3 264 360 265C365.7 266 371.3 267 377 267.8C382.7 268.6 389.1 269.1 394 269.8C398.9 270.4 403.1 271.2 406.7 271.6C410.2 272 413.2 271.8 415.3 272.2C417.4 272.6 419.1 273.2 419.3 274C419.6 274.9 418.9 275.8 416.8 277.2C414.6 278.6 410.7 280.4 406.7 282.3C402.7 284.1 398.1 286.2 392.8 288.1C387.4 290.1 381.5 292 374.4 294.1C367.3 296.2 359.1 298.7 350 300.7C340.9 302.7 328.8 304.9 320 306C311.2 307.1 303.6 307 297 307C290.4 307 284.7 306.4 280.6 306C276.5 305.6 272.7 306.4 272.3 304.5Z" fill="#fbfdc9"/>
<path d="M274 304.5C274 303 278.7 299.8 281 297C283.3 294.2 285.8 290.8 288 288C290.2 285.2 291.8 282.6 294 280C296.2 277.4 298.8 274.4 301 272.5C303.2 270.6 305 269.6 307 268.5C309 267.4 310.7 266.8 313 266C315.3 265.2 318 264 321 263.5C324 263 327.2 262.9 331 263C334.8 263.1 339.2 263.6 344 264.3C348.8 265 354.5 266.1 360 267C365.5 267.9 371.3 268.8 377 269.5C382.7 270.2 389.5 270.6 394 271.3C398.5 272 401.3 273 404 273.5C406.7 274 408.3 273.9 410 274.2C411.7 274.5 413.7 274.8 414 275.3C414.3 275.8 413.7 276.3 412 277.3C410.3 278.3 407.3 279.9 404 281.5C400.7 283.1 397 285.1 392 287C387 288.9 381 290.8 374 293C367 295.2 359 298.3 350 300.5C341 302.7 328.8 304.9 320 306C311.2 307.1 303.5 307 297 307C290.5 307 284.8 306.4 281 306C277.2 305.6 274 306 274 304.5Z" fill="#fef6b2"/>
<path d="M278 303.5C278.7 301.8 282.5 298.8 285 296C287.5 293.2 290.2 289.9 293 287C295.8 284.1 298.8 281 302 278.5C305.2 276 308.3 273.6 312 272C315.7 270.4 319.7 269.1 324 268.8C328.3 268.5 333.3 269 338 270C342.7 271 347.5 272.8 352 275C356.5 277.2 361.3 280.3 365 283C368.7 285.7 372.8 288.9 374 291C375.2 293.1 376 293.8 372 295.5C368 297.2 358.7 299.2 350 301C341.3 302.8 328.8 305 320 306C311.2 307 303.5 307 297 307C290.5 307 284.2 306.6 281 306C277.8 305.4 277.3 305.2 278 303.5Z" fill="#fee496"/>
<path d="M286 303C284.8 301.2 290.3 298.5 293 296C295.7 293.5 298.7 290.5 302 288C305.3 285.5 309.2 282.8 313 281C316.8 279.2 320.8 277.8 325 277.3C329.2 276.8 333.8 277.1 338 278C342.2 278.9 346.5 281.1 350 283C353.5 284.9 357.1 287.7 359 289.5C360.9 291.3 362.2 292.3 361.5 294C360.8 295.7 360.2 297.7 355 299.5C349.8 301.3 339.2 303.8 330 305C320.8 306.2 307.3 306.8 300 306.5C292.7 306.2 287.2 304.8 286 303Z" fill="#fdbe7d"/>
<path d="M306.5 301.5C307 299.7 309.2 297.5 311 296C312.8 294.5 315.2 293.6 317.4 292.4C319.6 291.2 321.8 289.9 324 289C326.2 288.1 328.2 287.2 330.5 286.9C332.8 286.6 335.8 286.7 338 287C340.2 287.3 341.8 288.1 343.5 288.8C345.2 289.6 347 290.6 348 291.5C349 292.4 349.8 293.4 349.5 294.5C349.2 295.6 347.4 296.8 346 298C344.6 299.2 343.6 300.5 341.4 301.5C339.2 302.5 336.6 303.1 333 304C329.4 304.9 324.2 306.5 320 307C315.8 307.5 310.2 307.9 308 307C305.8 306.1 306 303.3 306.5 301.5Z" fill="#fc9864"/>
<path d="M313 300C313.5 298.8 315.3 297.2 317 296C318.7 294.8 320.8 293.5 323 292.5C325.2 291.5 328 290.4 330.5 290C333 289.6 335.9 289.9 338 290.2C340.1 290.5 341.8 291.2 343 292C344.2 292.8 345.3 293.9 345 295C344.7 296.1 343 297.4 341 298.5C339 299.6 336.2 300.6 333 301.5C329.8 302.4 325.2 303.7 322 304C318.8 304.3 315.5 304.2 314 303.5C312.5 302.8 312.5 301.2 313 300Z" fill="#fb9160"/>
<path d="M85.2 269.1L85.7 269.3L86.2 269.6L86.8 269.9L87.3 270.2L87.8 270.4L88.4 270.7L88.9 271L89.4 271.2L89.9 271.5L90.5 271.7L91 272L91.5 272.3L92 272.5L92.5 272.7L93 273L93.5 273.2L94 273.4L94.5 273.6L94.9 273.9L95.4 274.1L95.9 274.3L96.5 274.5L97 274.7L97.6 275L98.1 275.2L98.8 275.4L99.4 275.7L100.1 276L100.7 276.2L101.4 276.5L102.2 276.7L102.9 277L103.6 277.3L104.4 277.6L105.2 277.8L106 278.1L106.8 278.4L107.6 278.7L108.4 279L109.3 279.3L110.2 279.6L111.1 279.9L112 280.2L112.9 280.5L113.9 280.9L114.9 281.2L115.9 281.5L117 281.9L118.1 282.3L119.1 282.6L120.2 283L121.3 283.4L122.4 283.7L123.5 284.1L124.6 284.4L125.7 284.8L126.8 285.1L127.9 285.4L129 285.7L130.1 286L131.1 286.3L132.2 286.5L133.2 286.8L134.3 287L135.4 287.3L136.4 287.5L137.5 287.7L138.6 288L139.6 288.2L140.7 288.4L141.8 288.6L142.8 288.8L143.9 289L144.9 289.2L146 289.4L147.1 289.6L148.1 289.8L149.2 290L150.2 290.1L151.2 290.3L152.3 290.4L153.3 290.6L154.4 290.8L155.4 290.9L156.5 291.1L157.5 291.2L158.6 291.4L159.7 291.5L160.8 291.7L161.9 291.8L163 292L164.1 292.2L165.3 292.3L166.5 292.5L167.7 292.7L168.9 292.9L170.1 293.1L171.3 293.3L172.5 293.5L173.7 293.6L174.9 293.8L176.1 294L177.3 294.2L178.5 294.3L179.7 294.5L180.9 294.7L182 294.8L183.1 294.9L184.2 295.1L185.4 295.2L186.5 295.3L187.6 295.4L188.7 295.5L189.8 295.6L190.8 295.8L191.9 295.9L193 295.9L194 296L195 296.1L196.1 296.2L197.1 296.3L198 296.4L199 296.5L199.9 296.6L200.9 296.7L201.8 296.8L202.7 296.8L203.5 296.9L204.4 297L205.2 297L206.1 297.1L206.9 297.2L207.7 297.2L208.6 297.3L209.4 297.4L210.2 297.5L211 297.5" fill="none" stroke="#fbfdc9" stroke-width="2.6"/>
<path d="M232.3 300L233.3 300L234.3 300.1L235.2 300.2L236.2 300.2L237.2 300.3L238.1 300.4L239.1 300.4L240 300.5L240.9 300.6L241.9 300.6L242.8 300.7L243.8 300.7L244.7 300.7L245.7 300.8L246.6 300.8L247.5 300.8L248.5 300.9L249.4 300.9L250.4 301L251.3 301L252.2 301L253.2 301.1L254.1 301.1L255 301.2L255.9 301.3L256.8 301.3L257.7 301.4L258.6 301.5L259.5 301.6L260.4 301.6L261.3 301.7L262.2 301.8L263 301.9L263.9 302L264.8 302.1L265.7 302.2L266.6 302.3L267.5 302.3" fill="none" stroke="#fbfdc9" stroke-width="2.6"/>
<path d="M271.3 302.7L272.3 302.7L273.2 302.8L274.2 302.9L275.2 303L276.2 303.1L277.2 303.1L278.2 303.2L279.1 303.3L280.1 303.4L281.1 303.4L282.1 303.5L283.1 303.6L284 303.6L285 303.7L285.9 303.8L286.9 303.8L287.8 303.9L288.7 303.9L289.6 304L290.5 304L291.4 304.1L292.3 304.1L293.2 304.2L294.1 304.2L295 304.3L295.9 304.3L296.9 304.3L297.9 304.4L298.9 304.4L300 304.4L301.1 304.4L302.2 304.4L303.3 304.5L304.5 304.5L305.7 304.5L306.9 304.5L308.1 304.5L309.3 304.5L310.6 304.5L311.8 304.5L313.1 304.5L314.4 304.4L315.6 304.4L316.9 304.3L318.2 304.3L319.5 304.2L320.8 304.1L322.1 304L323.5 303.9L324.9 303.7L326.3 303.6L327.7 303.4L329.1 303.2L330.5 303.1L331.9 302.9L333.3 302.7L334.7 302.5L336.1 302.3L337.5 302.1L338.8 302L340.1 301.8L341.4 301.6L342.7 301.4L343.9 301.3L345.1 301.1L346.3 300.9L347.5 300.8L348.7 300.6L349.9 300.4L351 300.3L352.2 300.1L353.3 299.9L354.4 299.8L355.5 299.6L356.7 299.4L357.8 299.2L358.9 299L360 298.8L361.1 298.6L362.2 298.4L363.3 298.2L364.4 297.9L365.4 297.7L366.5 297.5L367.5 297.3L368.6 297L369.6 296.8L370.7 296.6L371.7 296.3L372.8 296L373.8 295.8L374.9 295.5L375.9 295.2L377 294.9L378.1 294.6L379.1 294.3L380.2 293.9L381.2 293.6L382.3 293.2L383.4 292.9L384.4 292.5L385.5 292.1L386.6 291.8L387.6 291.4L388.7 291L389.8 290.6L390.8 290.2L391.9 289.8L392.9 289.4L394 289L395.1 288.6L396.1 288.2L397.2 287.8L398.3 287.4L399.4 286.9L400.5 286.5L401.6 286.1L402.7 285.6L403.8 285.2L404.9 284.8L405.9 284.3L407 283.9L408 283.5L409 283.1L410 282.6L411 282.2L411.9 281.8L412.8 281.4L413.7 281L414.6 280.6L415.4 280.2" fill="none" stroke="#fbfdc9" stroke-width="2.6"/>
</g></g>
<g filter="url(#bl)">
<circle cx="62.8" cy="178" r="1.1" fill="#da2e28"/>
<circle cx="64.8" cy="177.7" r="1" fill="#fbfdc9"/>
<circle cx="65" cy="175.8" r="1.3" fill="#da2e28"/>
<circle cx="67.1" cy="175.4" r="1.1" fill="#fbfdc9"/>
<circle cx="67.5" cy="173.3" r="1.5" fill="#da2e28"/>
<circle cx="69.8" cy="172.8" r="1.1" fill="#fbfdc9"/>
<circle cx="70.5" cy="170.6" r="1.8" fill="#da2e28"/>
<circle cx="73.1" cy="170.1" r="1.3" fill="#fbfdc9"/>
<circle cx="74.1" cy="167.7" r="2.2" fill="#da2e28"/>
<circle cx="76.9" cy="167.2" r="1.4" fill="#fbfdc9"/>
<circle cx="78.4" cy="164.7" r="2.6" fill="#da2e28"/>
<circle cx="81.6" cy="164.1" r="1.5" fill="#fbfdc9"/>
<circle cx="83.5" cy="161.5" r="3" fill="#da2e28"/>
<circle cx="87.1" cy="160.9" r="1.6" fill="#fbfdc9"/>
<circle cx="89.5" cy="158.1" r="3.3" fill="#da2e28"/>
<circle cx="93.3" cy="157.4" r="1.6" fill="#fbfdc9"/>
<circle cx="96.1" cy="154.6" r="3.3" fill="#da2e28"/>
<circle cx="62.2" cy="248" r="1.1" fill="#da2e28"/>
<circle cx="64.1" cy="248.4" r="1" fill="#fbfdc9"/>
<circle cx="64.3" cy="250.3" r="1.3" fill="#da2e28"/>
<circle cx="66.4" cy="250.8" r="1" fill="#fbfdc9"/>
<circle cx="66.7" cy="252.8" r="1.5" fill="#da2e28"/>
<circle cx="69" cy="253.4" r="1.1" fill="#fbfdc9"/>
<circle cx="69.5" cy="255.6" r="1.7" fill="#da2e28"/>
<circle cx="71.9" cy="256.3" r="1.2" fill="#fbfdc9"/>
<circle cx="72.7" cy="258.7" r="2" fill="#da2e28"/>
<circle cx="75.3" cy="259.3" r="1.3" fill="#fbfdc9"/>
<circle cx="76.5" cy="261.8" r="2.4" fill="#da2e28"/>
<circle cx="79.5" cy="262.3" r="1.4" fill="#fbfdc9"/>
<circle cx="81.2" cy="264.9" r="2.7" fill="#da2e28"/>
<path d="M404.8 229C403.7 226.7 405 224.1 405.5 222C406 219.9 406.2 218.7 408 216.5C409.8 214.3 413.1 211.3 416.2 209C419.3 206.7 422.4 204.4 426.9 202.9C431.4 201.4 436.4 200.7 443.1 200C449.8 199.3 460.2 198.7 467.3 198.7C474.4 198.7 480.6 199 486 200C491.4 201 495.6 202.9 500 204.8C504.4 206.7 509.3 208.9 512.5 211.3C515.7 213.7 518.8 216.7 519.3 219.3C519.8 221.9 517.6 224.4 515.3 226.8C513 229.2 509.8 231.1 505.4 233.9C501 236.7 493.3 240.7 489 243.5C484.7 246.3 482.4 248.1 479.5 250.5C476.6 252.9 474.3 255.2 471.5 257.8C468.7 260.4 466.2 263.6 462.5 266C458.8 268.4 453.9 271.1 449 272.5C444.1 273.9 437 274.8 433 274.5C429 274.2 426.6 272.6 425 270.5C423.4 268.4 423.8 264.6 423.6 262C423.4 259.4 423.5 257.1 423.7 254.6C423.9 252.1 425.6 249.3 425 247C424.4 244.7 422.4 242.4 420.2 240.5C418 238.6 414.6 237.6 412 235.7C409.4 233.8 405.9 231.3 404.8 229Z" fill="#9bc7e0"/>
<path d="M405.3 228.9C404.3 226.7 405.5 224.2 406 222.1C406.6 220.1 406.8 218.9 408.6 216.8C410.4 214.7 413.6 211.7 416.7 209.5C419.8 207.3 422.8 205.1 427.3 203.6C431.7 202.2 436.6 201.5 443.3 200.8C449.9 200.1 460.1 199.6 467.2 199.6C474.2 199.6 480.3 200 485.6 200.9C491 201.9 495 203.8 499.2 205.6C503.5 207.4 508 209.5 511 211.9C514 214.2 516.8 217 517.2 219.5C517.7 221.9 515.8 224.3 513.7 226.7C511.5 229 508.3 230.9 504.1 233.6C499.9 236.4 492.6 240.4 488.4 243.1C484.2 245.8 481.8 247.7 478.9 250.1C476 252.5 473.8 254.9 471 257.5C468.1 260.2 465.7 263.3 462 265.7C458.3 268.1 453.4 270.7 448.6 272.1C443.9 273.4 437.2 274.2 433.3 273.8C429.5 273.4 427.1 271.8 425.6 269.8C424.1 267.8 424.4 264.2 424.1 261.6C423.9 259.1 423.9 256.9 424.1 254.5C424.3 252 425.9 249.4 425.3 247C424.6 244.7 422.6 242.4 420.5 240.5C418.3 238.6 414.8 237.6 412.3 235.6C409.8 233.7 406.4 231.2 405.3 228.9Z" fill="#c4e0ee"/>
<path d="M406.3 228.7C405.3 226.6 406.5 224.3 407.1 222.4C407.6 220.5 407.9 219.3 409.7 217.3C411.4 215.3 414.5 212.6 417.6 210.6C420.6 208.5 423.6 206.4 428 205C432.3 203.6 437.1 202.9 443.6 202.3C450.1 201.7 460.1 201.3 467 201.4C473.9 201.4 479.8 201.8 485 202.7C490.1 203.7 493.9 205.4 497.8 207.1C501.7 208.8 505.6 210.8 508.2 212.9C510.8 215 513 217.5 513.4 219.7C513.8 222 512.5 224.2 510.5 226.5C508.6 228.7 505.5 230.5 501.7 233.1C497.8 235.8 491.3 239.6 487.3 242.3C483.3 245 480.6 246.9 477.7 249.3C474.8 251.8 472.7 254.4 469.9 257.1C467.2 259.7 464.7 262.9 461.1 265.2C457.4 267.6 452.5 270 448 271.2C443.4 272.4 437.5 272.9 433.9 272.4C430.4 272 428.2 270.5 426.7 268.6C425.2 266.6 425.4 263.4 425.1 261C424.8 258.6 424.8 256.5 424.9 254.2C425.1 251.9 426.4 249.4 425.7 247.1C425.1 244.9 423.1 242.5 421 240.6C418.8 238.6 415.4 237.4 412.9 235.5C410.5 233.5 407.3 230.9 406.3 228.7Z" fill="#e8f5ec"/>
<path d="M407.9 228.5C407 226.4 408.1 224.5 408.7 222.8C409.3 221.1 409.8 219.9 411.5 218.1C413.2 216.4 416.1 214 419.1 212.2C422 210.4 424.9 208.5 429.1 207.3C433.3 206 437.9 205.4 444.1 204.9C450.4 204.4 460 204.1 466.6 204.3C473.2 204.4 479 204.8 483.8 205.7C488.6 206.5 492.1 208 495.4 209.5C498.7 211 501.7 212.9 503.6 214.6C505.5 216.4 506.7 218.3 507 220.2C507.3 222.1 507 224.1 505.4 226.1C503.9 228.1 501 229.8 497.6 232.3C494.3 234.8 489.1 238.4 485.4 241.1C481.8 243.7 478.6 245.5 475.7 248.1C472.9 250.6 471 253.6 468.3 256.3C465.6 259 463.1 262.1 459.5 264.4C456 266.6 450.9 268.8 446.8 269.8C442.7 270.8 437.9 270.7 434.9 270.2C431.8 269.6 429.9 268.2 428.5 266.4C427.1 264.7 427 262 426.7 259.8C426.3 257.7 426.3 255.8 426.3 253.7C426.3 251.6 427.3 249.4 426.5 247.3C425.8 245.1 423.9 242.7 421.8 240.7C419.7 238.7 416.2 237.2 413.9 235.2C411.6 233.2 408.7 230.5 407.9 228.5Z" fill="#fbfdc9"/>
<path d="M410.5 228C409.8 226.1 410.8 224.9 411.5 223.5C412.2 222.1 412.8 220.9 414.5 219.5C416.2 218.1 418.8 216.4 421.5 215C424.2 213.6 427.1 212 431 211C434.9 210 439.2 209.3 445 209C450.8 208.7 459.8 208.8 466 209C472.2 209.2 477.8 209.8 482 210.5C486.2 211.2 489.2 212.3 491.5 213.5C493.8 214.7 495.2 216.2 496 217.5C496.8 218.8 496.3 219.7 496.5 221C496.7 222.3 497.9 223.8 497 225.5C496.1 227.2 493.4 228.8 491 231C488.6 233.2 485.5 236.5 482.4 239C479.3 241.5 475.3 243.3 472.5 246C469.7 248.7 468.1 252.2 465.5 255C462.9 257.8 460.4 260.9 457 263C453.6 265.1 448.4 266.9 445 267.5C441.6 268.1 438.8 267.2 436.5 266.5C434.2 265.8 432.7 264.4 431.5 263C430.3 261.6 429.8 259.7 429.3 258C428.8 256.3 428.8 254.8 428.5 253C428.2 251.2 428.7 249.5 427.8 247.5C426.9 245.5 425.2 242.9 423.2 240.8C421.1 238.7 417.6 236.9 415.5 234.8C413.4 232.7 411.2 229.9 410.5 228Z" fill="#fef6b2"/>
<path d="M416 224C416.5 221.3 418.2 218.9 420.5 217C422.8 215.1 426.1 213.4 430 212.5C433.9 211.6 439.3 211.5 444 211.5C448.7 211.5 454 211.8 458 212.5C462 213.2 465.7 214.5 468 215.5C470.3 216.5 471.7 217.4 472 218.5C472.3 219.6 471.5 220.8 470 222C468.5 223.2 465.2 224 463 225.5C460.8 227 458.2 228.6 457 231C455.8 233.4 455.3 237.2 455.5 240C455.7 242.8 457.1 245.3 458 248C458.9 250.7 461.2 253.6 461 256C460.8 258.4 459 260.8 457 262.5C455 264.2 451.8 265.5 449 266C446.2 266.5 442.7 266.2 440 265.5C437.3 264.8 434.8 263.6 433 262C431.2 260.4 430.2 258.2 429.5 256C428.8 253.8 429.5 250.9 428.5 248.5C427.5 246.1 425.3 244.1 423.5 241.5C421.7 238.9 418.8 235.9 417.5 233C416.2 230.1 415.5 226.7 416 224Z" fill="#fee9a0"/>
<path d="M419.5 228C419.9 225.5 421.2 222.6 423 220.5C424.8 218.4 427.5 216.4 430.5 215.5C433.5 214.6 437.9 214.3 441 214.8C444.1 215.3 447 216.6 449 218.5C451 220.4 452.2 223.2 453 226C453.8 228.8 453.9 232.2 454 235C454.1 237.8 453.2 240.5 453.5 243C453.8 245.5 455.5 247.7 456 250C456.5 252.3 457 254.8 456.3 257C455.6 259.2 454.1 261.5 452 263C449.9 264.5 446.5 265.7 444 265.8C441.5 265.9 438.9 264.7 437 263.5C435.1 262.3 433.7 260.4 432.5 258.5C431.3 256.6 430.6 253.8 430 252C429.4 250.2 430.2 249.1 429.2 247.5C428.2 245.9 425.5 244.3 424 242.3C422.5 240.3 421.1 237.9 420.3 235.5C419.6 233.1 419.1 230.5 419.5 228Z" fill="#fdbe7d"/>
<path d="M421.5 229C421.9 226.5 422.8 223.4 424.5 221.5C426.2 219.6 428.8 218.1 431.5 217.3C434.2 216.6 437.9 216.5 440.5 217C443.1 217.5 445.3 218.8 447 220.5C448.7 222.2 450 224.9 450.7 227.5C451.4 230.1 451.4 233.4 451.3 236C451.2 238.6 450.3 240.8 450.3 243C450.3 245.2 451.3 246.9 451.5 249C451.7 251.1 451.9 253.7 451.3 255.5C450.7 257.3 449.5 258.9 448 260C446.5 261.1 444.3 261.9 442.5 261.8C440.7 261.7 438.5 260.7 437 259.5C435.5 258.3 434.4 256.3 433.5 254.5C432.6 252.7 432.8 250.4 431.5 248.5C430.2 246.6 427 245.3 425.5 243.3C424 241.3 423 238.9 422.3 236.5C421.6 234.1 421.1 231.5 421.5 229Z" fill="#fc9864"/>
<path d="M422.3 230C422.7 227.6 423.7 224.7 425.2 222.8C426.7 220.9 429 219.5 431.5 218.8C434 218.1 437.9 217.9 440.3 218.5C442.7 219.1 444.5 220.6 446 222.3C447.5 224.1 448.9 226.7 449.5 229C450.1 231.3 450.1 233.8 449.8 236C449.6 238.2 448.8 240.7 448 242.5C447.2 244.3 446.3 245.8 445 247C443.7 248.2 441.8 249.2 440 249.5C438.2 249.8 435.7 249.1 434 248.8C432.3 248.6 431.4 248.8 430 248C428.6 247.2 426.5 246.1 425.3 244.3C424.1 242.5 423.3 239.4 422.8 237C422.3 234.6 421.9 232.4 422.3 230Z" fill="#ee6444"/>
<ellipse cx="442.3" cy="254" rx="4.2" ry="3.6" fill="#f8875c"/>
<path d="M423.2 230C423.5 227.9 424.4 225.7 425.8 224C427.2 222.3 429.1 220.7 431.5 220C433.9 219.3 437.8 219.1 440 219.7C442.2 220.3 443.7 221.9 445 223.5C446.3 225.1 447.4 227.5 448 229.5C448.6 231.5 448.9 233.4 448.6 235.5C448.4 237.6 447.6 240.1 446.5 241.8C445.4 243.5 443.8 244.9 442 245.8C440.2 246.7 438 247.1 436 247.3C434 247.5 431.9 247.4 430 247.2C428.1 247 425.2 247.2 424.6 246.3C424 245.4 426.4 243.1 426.3 241.5C426.2 239.9 424.3 238.4 423.8 236.5C423.3 234.6 422.9 232.1 423.2 230Z" fill="#da2e28"/>
<path d="M418.3 246.9L425.5 245L426.5 248.5Z" fill="#fdbe7d"/>
<path d="M386.7 166C386.6 163.4 387.7 161.3 388.8 159.5C389.9 157.7 391.5 156.5 393.3 155.3C395.1 154.1 397.5 153 399.5 152.3C401.5 151.6 403.6 151.1 405.5 151.3C407.4 151.6 409.6 152.3 411 153.8C412.4 155.3 413.7 158.4 414 160.5C414.3 162.6 413.7 164.5 412.8 166.5C411.9 168.5 410.3 170.4 408.9 172.5C407.5 174.6 406.4 177.8 404.3 179C402.2 180.2 398.5 180.2 396 179.5C393.5 178.8 390.9 177.2 389.3 175C387.8 172.8 386.8 168.6 386.7 166Z" fill="#9bc7e0"/>
<path d="M387.5 166.3C387.4 163.8 388.5 161.8 389.5 160.1C390.6 158.4 392.1 157.2 393.8 156C395.5 154.9 397.8 153.8 399.7 153.2C401.6 152.6 403.6 152 405.4 152.3C407.2 152.6 409.2 153.3 410.6 154.8C411.9 156.2 413.1 159.2 413.4 161.2C413.6 163.2 413 165 412.2 167C411.4 168.9 409.8 170.7 408.5 172.7C407.1 174.7 406.1 177.7 404.1 178.8C402 179.9 398.6 179.9 396.2 179.2C393.9 178.6 391.4 177.1 389.9 174.9C388.5 172.8 387.6 168.8 387.5 166.3Z" fill="#c4e0ee"/>
<path d="M389.6 167.2C389.6 165 390.5 163.1 391.4 161.6C392.3 160.1 393.7 159 395.1 158C396.6 157 398.5 156.1 400.2 155.6C401.8 155 403.5 154.7 405 154.9C406.6 155.2 408.3 155.9 409.4 157.3C410.5 158.6 411.5 161.2 411.7 163C411.9 164.8 411.3 166.5 410.6 168.2C409.8 169.9 408.5 171.5 407.3 173.2C406.1 174.9 405.3 177.5 403.5 178.4C401.8 179.3 398.9 179.2 396.9 178.6C394.9 178 392.8 176.6 391.6 174.7C390.4 172.8 389.7 169.3 389.6 167.2Z" fill="#e8f5ec"/>
<path d="M396 169.7C396.1 168.4 396.6 167.1 397.2 166.2C397.7 165.2 398.4 164.4 399.2 163.9C399.9 163.3 400.9 162.8 401.7 162.7C402.5 162.5 403.3 162.5 404 162.9C404.7 163.3 405.4 164 405.8 164.9C406.3 165.8 406.6 167.4 406.6 168.5C406.5 169.7 406.2 170.8 405.7 171.9C405.3 172.9 404.5 173.9 403.9 174.7C403.2 175.6 402.6 176.7 401.8 177C401 177.3 399.7 177.1 398.8 176.6C398 176.1 397.1 175.1 396.6 174C396.2 172.8 395.9 171 396 169.7Z" fill="#fbfdc9"/>
<path d="M399.1 170.9C399.2 170 399.6 169.1 399.9 168.4C400.2 167.7 400.7 167.1 401.1 166.7C401.5 166.3 402 166.1 402.4 166.1C402.8 166.1 403.2 166.3 403.5 166.7C403.8 167.1 404 167.8 404.1 168.5C404.2 169.3 404.2 170.3 404.1 171.2C404 172 403.7 172.9 403.4 173.6C403.1 174.3 402.6 175 402.2 175.5C401.8 175.9 401.4 176.3 401 176.3C400.6 176.3 400.1 176.1 399.8 175.6C399.4 175.2 399.2 174.4 399 173.6C398.9 172.9 399 171.8 399.1 170.9Z" fill="#fef6b2"/>
<g transform="rotate(33 411.4 186.7)"><ellipse cx="411.4" cy="186.7" rx="6.3" ry="3.2" fill="#c4e0ee"/><ellipse cx="411" cy="186.7" rx="5" ry="2.4" fill="#e8f5ec"/><ellipse cx="409.3" cy="186.6" rx="2.6" ry="1.5" fill="#fdbe7d"/></g>
</g>
</g>
<rect x="61" y="178.8" width="342.3" height="67.7" fill="#fff"/>
<g filter="url(#bl)"><circle cx="404.5" cy="180.4" r="1.7" fill="#da2e28"/><ellipse cx="405.3" cy="246.6" rx="1.1" ry="1.8" fill="#fdbe7d"/><ellipse cx="405.3" cy="244.9" rx="1.2" ry="1.9" fill="#da2e28"/></g>
<g class="reg">
<text x="51.3" y="145.8" textLength="53.2" lengthAdjust="spacingAndGlyphs">UL</text>
<text x="370.3" y="145.6" textLength="67.6" lengthAdjust="spacingAndGlyphs">UTa</text>
<text x="425.6" y="190.7">UT<tspan style="font-size:25px">b</tspan></text>
<text x="50.3" y="319.7" textLength="53.2" lengthAdjust="spacingAndGlyphs">DL</text>
<text x="406.7" y="319.7" textLength="51.4" lengthAdjust="spacingAndGlyphs">DT</text>
</g>
</svg>
</body></html>
